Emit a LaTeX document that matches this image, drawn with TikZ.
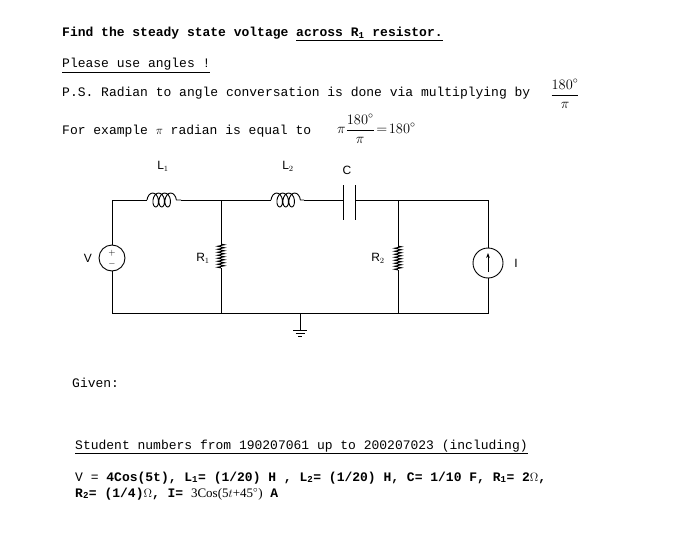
\documentclass[tikz,border=0pt]{standalone}
\usepackage{fontspec}
\setmainfont{Liberation Serif}
\setmonofont{Liberation Mono}
\setsansfont{Liberation Sans}
\usetikzlibrary{decorations.pathmorphing,arrows.meta}
\begin{document}
\begin{tikzpicture}[x=1pt,y=-1pt,
  mono/.style={font=\fontsize{13}{15}\selectfont\ttfamily,anchor=base west,inner sep=0},
  lab/.style={font=\fontsize{12}{14}\selectfont\sffamily,inner sep=0},
  wire/.style={line width=0.9pt},
  coilst/.style={wire,decorate,decoration={coil,amplitude=7pt,segment length=6pt,aspect=0.6}},
  resst/.style={wire,decorate,decoration={zigzag,amplitude=3.5pt,segment length=3pt}}]
\fill[white] (0,0) rectangle (700,532);
\useasboundingbox (0,0) rectangle (700,532);
% texts
\node[mono] (t1) at (62,37) {\textbf{Find the steady state voltage \underline{across R\textsubscript{1} resistor.}}};
\node[mono] (t2) at (62,68) {\underline{Please use angles !}};
\node[mono] (t3) at (62,96) {P.S. Radian to angle conversation is done via multiplying by};
\node[inner sep=0,font=\fontsize{14}{16}\selectfont] (f1) at (565,94) {$\displaystyle\frac{180^\circ}{\pi}$};
\node[mono] (t4) at (62,134) {For example $\pi$ radian is equal to};
\node[inner sep=0,font=\fontsize{14}{16}\selectfont,anchor=west] (f2) at (337,129) {$\displaystyle\pi\frac{180^\circ}{\pi}\!=\!180^\circ$};
\node[mono] (t5) at (72,387) {Given:};
\node[mono] (t6) at (75,449) {\underline{Student numbers from 190207061 up to 200207023 (including)}};
\node[mono] (t7) at (75,481) {V = \textbf{4Cos(5t), L\textsubscript{1}= (1/20) H , L\textsubscript{2}= (1/20) H,  C= 1/10 F,  R\textsubscript{1}= 2$\Omega$,}};
\node[mono] (t8) at (75,497) {\textbf{R\textsubscript{2}= (1/4)$\Omega$, I= }\textrm{3Cos(5$t$+45$^\circ$)} \textbf{A}};
% circuit nodes
\coordinate (a) at (112,200); \coordinate (b) at (147,200);
\coordinate (c) at (181,200); \coordinate (d) at (221,200);
\coordinate (e) at (271,200); \coordinate (f) at (304,200);
\coordinate (g) at (343,200); \coordinate (h) at (355,200);
\coordinate (k) at (398,200); \coordinate (m) at (488,200);
\coordinate (ab) at (112,313); \coordinate (db) at (221,313);
\coordinate (gb) at (300,313); \coordinate (kb) at (398,313); \coordinate (mb) at (488,313);
\node[circle,draw,wire,minimum size=26pt,inner sep=0] (V) at (112,258) {};
\node[circle,draw,wire,minimum size=30pt,inner sep=0] (I) at (488,263) {};
\node[font=\fontsize{9}{9}\selectfont,inner sep=0] (vp) at (112,253) {$+$};
\node[font=\fontsize{9}{9}\selectfont,inner sep=0] (vm) at (112,264) {$-$};
\draw[wire,-{Stealth[length=5pt]}] (488,272) -- (488,253);
\draw[wire] (V) -- (a) -- (b);
\draw[coilst] (b) -- (c);
\draw[wire] (c) -- (e);
\draw[coilst] (e) -- (f);
\draw[wire] (f) -- (g) (h) -- (m) -- (I) (I) -- (mb) -- (ab) -- (V);
\draw[wire] (343,185) -- (343,220) (355,185) -- (355,220);
\draw[wire] (d) -- (221,244); \draw[resst] (221,244) -- (221,268); \draw[wire] (221,268) -- (db);
\draw[wire] (k) -- (398,246); \draw[resst] (398,246) -- (398,270); \draw[wire] (398,270) -- (kb);
\draw[wire] (gb) -- (300,330);
\draw[wire] (293,330) -- (307,330) (295.5,333) -- (304.5,333) (298,336) -- (302,336);
\node[lab] at (163,166) {L$_1$};
\node[lab] at (288,166) {L$_2$};
\node[lab] at (347,170) {C};
\node[lab] at (88,258) {V};
\node[lab] at (203,258) {R$_1$};
\node[lab] at (378,258) {R$_2$};
\node[lab] at (516,263) {I};
\end{tikzpicture}
\end{document}
